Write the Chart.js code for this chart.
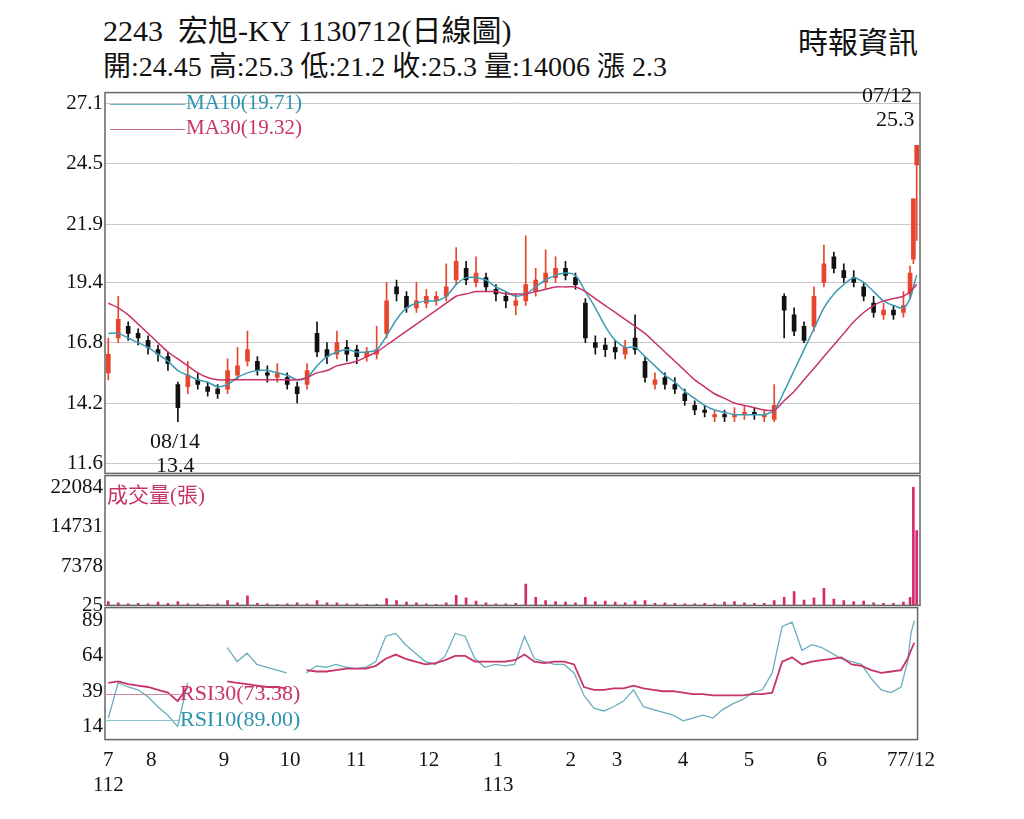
<!DOCTYPE html>
<html>
<head>
<meta charset="utf-8">
<script src="https://cdn.jsdelivr.net/npm/chart.js@4"></script>
<style>
  body { margin: 0; background: #fff; width: 1024px; height: 819px; overflow: hidden; position: relative;
         font-family: "Liberation Serif", "Noto Sans CJK TC", serif; color: #111; }
  .t { position: absolute; white-space: nowrap; }
  canvas { position: absolute; left: 0; }
  .seg { position: absolute; height: 1px; }
</style>
</head>
<body>
<div class="t" style="left:103px;top:6px;font-size:30px;">2243&nbsp; 宏旭-KY 1130712(日線圖)</div>
<div class="t" style="left:103px;top:44px;font-size:28px;">開:24.45 高:25.3 低:21.2 收:25.3 量:14006 漲 2.3</div>
<div class="t" style="left:798px;top:18px;font-size:30px;">時報資訊</div>

<canvas id="priceChart" style="top:78px" width="935" height="410"></canvas>
<canvas id="volChart" style="top:461px" width="935" height="159"></canvas>
<canvas id="rsiChart" style="top:593px" width="935" height="205"></canvas>

<div class="seg" style="left:110px;top:104px;width:75px;background:#6fb3c4"></div>
<div class="t" style="left:186px;top:90px;font-size:21px;color:#2a93ad">MA10(19.71)</div>
<div class="seg" style="left:110px;top:129px;width:75px;background:#c86a8a"></div>
<div class="t" style="left:186px;top:115px;font-size:21px;color:#c8336a">MA30(19.32)</div>
<div class="t" style="left:862px;top:82px;font-size:22px;">07/12</div>
<div class="t" style="left:876px;top:106px;font-size:22px;">25.3</div>
<div class="t" style="left:150px;top:428px;font-size:22px;">08/14</div>
<div class="t" style="left:156px;top:452px;font-size:22px;">13.4</div>
<div class="t" style="left:107px;top:478px;font-size:21px;color:#c8336a">成交量(張)</div>
<div class="seg" style="left:105px;top:694px;width:75px;background:#c88aa0"></div>
<div class="t" style="left:180px;top:680px;font-size:22px;color:#c8336a">RSI30(73.38)</div>
<div class="seg" style="left:105px;top:720px;width:75px;background:#8cc0cc"></div>
<div class="t" style="left:180px;top:706px;font-size:22px;color:#2a93ad">RSI10(89.00)</div>

<script>
// 交易日序號 (0 = 2023/07 起)
const days = [0,3,6,9,12,15,18,21,24,27,30,33,36,39,42,45,48,51,54,57,
  60,63,66,69,72,75,78,81,84,87,90,93,96,99,102,105,108,111,114,117,
  120,123,126,129,132,135,138,141,144,147,150,153,156,159,162,165,168,171,174,177,
  180,183,186,189,192,195,198,201,204,207,210,213,216,219,222,225,228,231,234,237,
  240,242,243,244];

const opens = [15.5,17.0,17.5,17.2,16.9,16.5,16.2,15.0,14.9,15.2,
  14.9,14.8,14.8,15.4,16.0,16.0,15.5,15.3,15.3,14.9,
  15.0,17.2,16.5,16.3,16.6,16.5,16.2,16.3,17.2,19.2,
  18.8,18.3,18.5,18.6,18.8,19.5,20.0,19.4,19.6,19.1,
  18.8,18.4,18.6,19.0,19.4,19.6,20.0,19.6,18.5,16.8,
  16.7,16.6,16.3,17.0,16.0,15.0,15.3,15.0,14.6,14.1,
  13.9,13.6,13.7,13.6,13.7,13.8,13.6,13.5,18.8,18.0,
  17.5,17.5,19.4,20.5,19.9,19.6,19.2,18.5,18.0,18.2,
  18.1,18.9,20.4,24.45];
const highs = [17.0,18.8,17.7,17.4,17.1,16.7,16.4,15.1,16.0,15.5,
  15.1,15.0,16.1,16.6,17.3,16.2,15.8,15.9,15.5,15.1,
  15.9,17.7,16.8,17.3,16.9,16.7,16.6,17.5,19.4,19.5,
  19.0,19.4,19.1,19.0,20.2,20.9,20.3,20.5,19.8,19.3,
  19.0,18.9,21.4,20.0,20.8,20.5,20.3,19.8,18.7,17.1,
  17.0,16.9,16.9,18.0,16.2,15.5,15.5,15.3,14.8,14.3,
  14.1,13.9,13.9,14.0,14.1,14.0,13.9,15.0,18.9,18.3,
  17.7,19.2,21.0,20.7,20.2,19.9,19.4,18.8,18.5,18.4,
  19.0,20.1,23.0,25.3];
const lows = [15.2,16.8,16.9,16.7,16.3,16.0,15.6,13.4,14.6,14.8,
  14.5,14.4,14.6,15.2,15.8,15.4,15.1,15.1,14.8,14.2,
  14.8,16.2,15.9,16.1,16.0,15.9,16.0,16.1,17.0,18.6,
  18.1,18.1,18.3,18.4,18.6,19.3,19.3,19.2,19.0,18.6,
  18.3,18.0,18.4,18.8,19.1,19.4,19.5,19.1,16.8,16.3,
  16.2,16.1,16.1,16.3,15.1,14.8,14.8,14.6,14.1,13.7,
  13.6,13.4,13.4,13.4,13.5,13.5,13.4,13.4,17.0,17.1,
  16.8,17.3,19.2,19.8,19.4,19.2,18.6,17.9,17.8,17.8,
  17.9,18.7,20.2,21.2];
const closes = [16.3,17.8,17.2,17.0,16.6,16.3,15.9,14.0,15.4,15.0,
  14.7,14.6,15.6,15.8,16.5,15.6,15.4,15.5,15.0,14.6,
  15.6,16.4,16.2,16.8,16.3,16.2,16.4,16.5,18.6,18.9,
  18.3,18.6,18.8,18.8,19.2,20.3,19.5,19.8,19.2,18.9,
  18.6,18.6,19.3,19.5,19.8,20.0,19.7,19.3,17.0,16.6,
  16.5,16.4,16.6,16.5,15.3,15.2,15.0,14.8,14.3,13.9,
  13.8,13.7,13.6,13.7,13.8,13.7,13.7,14.1,18.2,17.3,
  16.9,18.8,20.2,20.0,19.6,19.4,18.8,18.1,18.2,18.0,
  18.4,19.8,23.0,25.3];

const ma10 = [17.2,17.2,17.0,16.8,16.6,16.3,16.0,15.6,15.4,15.2,
  15.1,14.9,15.0,15.3,15.5,15.6,15.6,15.5,15.4,15.2,
  15.3,15.8,16.2,16.4,16.5,16.4,16.4,16.5,17.1,17.8,
  18.3,18.5,18.6,18.6,18.8,19.3,19.6,19.6,19.5,19.2,
  19.0,18.8,18.9,19.2,19.5,19.7,19.8,19.7,19.0,18.3,
  17.5,16.9,16.6,16.6,16.2,15.8,15.4,15.1,14.7,14.4,
  14.1,13.9,13.8,13.7,13.7,13.7,13.7,13.9,14.7,15.6,
  16.5,17.4,18.3,18.9,19.3,19.6,19.4,19.0,18.6,18.4,
  18.3,18.7,19.2,19.71];
const ma30 = [18.5,18.3,18.0,17.6,17.2,16.8,16.4,16.1,15.8,15.5,
  15.3,15.2,15.2,15.2,15.2,15.2,15.2,15.2,15.2,15.2,
  15.3,15.5,15.6,15.8,15.9,16.0,16.2,16.4,16.7,17.0,
  17.3,17.6,17.9,18.2,18.5,18.8,18.9,19.0,19.0,19.0,
  18.9,18.9,18.9,19.0,19.1,19.2,19.2,19.2,19.0,18.7,
  18.4,18.1,17.8,17.5,17.2,16.8,16.4,16.0,15.6,15.2,
  14.9,14.6,14.4,14.2,14.1,14.0,13.9,13.9,14.3,14.7,
  15.2,15.7,16.2,16.7,17.2,17.7,18.1,18.4,18.6,18.7,
  18.8,19.0,19.15,19.32];

const volumes = [700,500,300,400,300,600,400,700,300,300,
  200,300,900,500,1800,400,300,200,300,500,
  300,900,500,500,300,300,200,200,1300,900,
  600,500,300,200,500,1900,1400,800,500,300,
  300,400,4000,1500,900,700,600,500,1500,700,
  800,600,500,800,900,400,500,400,300,300,
  400,300,600,700,500,400,400,900,1500,2600,
  1000,1400,3200,1200,900,700,800,500,400,400,
  600,1500,22084,14006];

const rsi10 = [20,45,42,40,35,28,22,14,45,null,
  null,null,70,60,66,58,56,54,52,null,
  52,57,56,58,56,55,56,60,78,80,
  72,66,60,58,64,80,78,62,56,58,
  57,58,78,62,60,58,58,52,36,27,
  25,28,32,40,28,26,24,22,18,20,
  22,20,26,30,33,38,40,52,85,88,
  68,72,70,66,62,60,58,48,40,38,
  42,60,80,89.0];
const rsi30 = [45,46,44,43,42,40,38,32,42,null,
  null,null,46,45,44,43,42,42,41,null,
  54,53,53,54,55,55,55,57,62,65,
  62,60,58,59,61,64,64,60,60,60,
  60,61,65,60,59,60,60,58,42,40,
  40,41,41,43,41,40,39,39,38,37,
  37,36,36,36,36,37,37,38,60,63,
  58,60,61,62,63,58,57,54,52,53,
  54,62,68,73.38];

// 月份刻度
const monthDays = [0,13,35,55,75,97,118,140,154,174,194,216,243];
const monthLabels = [['7','112'],'8','9','10','11','12',['1','113'],'2','3','4','5','6','77/12'];

const priceTicks = [11.6,14.2,16.8,19.4,21.9,24.5,27.1];
const volTicks = [25,7378,14731,22084];
const rsiTicks = [14,39,64,89];

const RED = '#e8452c', BLACK = '#111';
const FONT = { family: '"Liberation Serif", serif', size: 21 };

const boxPlugin = {
  id: 'box',
  afterDraw(chart) {
    const a = chart.chartArea, ctx = chart.ctx;
    ctx.save();
    ctx.strokeStyle = '#666';
    ctx.lineWidth = 1.5;
    ctx.strokeRect(a.left, a.top, a.right - a.left, a.bottom - a.top);
    ctx.restore();
  }
};

function xScale(showTicks) {
  return {
    type: 'linear', min: -1, max: 245, offset: false,
    grid: { display: false },
    border: { display: false },
    afterBuildTicks: s => { s.ticks = monthDays.map(v => ({ value: v })); },
    ticks: {
      display: showTicks, autoSkip: false, maxRotation: 0, color: BLACK, font: FONT, padding: 0,
      callback: (v, i) => monthLabels[i]
    }
  };
}

function yScale(min, max, ticks, grid) {
  return {
    min, max,
    afterFit: s => { s.width = 105; },
    afterBuildTicks: s => { s.ticks = ticks.map(v => ({ value: v })); },
    grid: { display: grid, color: '#c8c8c8', drawTicks: false },
    border: { display: false },
    ticks: { color: BLACK, font: FONT, padding: 2, autoSkip: false, callback: v => String(v) }
  };
}

const baseOpts = {
  responsive: false, animation: false,
  plugins: { legend: { display: false }, tooltip: { enabled: false } }
};

const candleColors = closes.map((c, i) => c >= opens[i] ? RED : BLACK);

new Chart(document.getElementById('priceChart'), {
  type: 'bar',
  data: {
    datasets: [
      { type: 'line', data: days.map((d, i) => ({ x: d, y: ma30[i] })), borderColor: '#c8336a',
        borderWidth: 1.5, pointRadius: 0, tension: 0.3 },
      { type: 'line', data: days.map((d, i) => ({ x: d, y: ma10[i] })), borderColor: '#3a9bb5',
        borderWidth: 1.5, pointRadius: 0, tension: 0.3 },
      { data: days.map((d, i) => ({ x: d, y: [lows[i], highs[i]] })), backgroundColor: candleColors,
        barThickness: 1, grouped: false },
      { data: days.map((d, i) => ({ x: d, y: [opens[i], closes[i] === opens[i] ? closes[i] + 0.05 : closes[i]] })),
        backgroundColor: candleColors, barThickness: 4, grouped: false }
    ]
  },
  options: { ...baseOpts,
    layout: { padding: { top: 6, right: 15, bottom: 0, left: 0 } },
    scales: { x: xScale(false), y: yScale(11.17, 27.57, priceTicks, true) } },
  plugins: [boxPlugin]
});

new Chart(document.getElementById('volChart'), {
  type: 'bar',
  data: {
    datasets: [{ data: days.map((d, i) => ({ x: d, y: volumes[i] })), backgroundColor: '#d6296f', barThickness: 2 }]
  },
  options: { ...baseOpts,
    layout: { padding: { top: 5, right: 15, bottom: 0, left: 0 } },
    scales: { x: xScale(false), y: yScale(0, 24300, volTicks, false) } },
  plugins: [boxPlugin]
});

new Chart(document.getElementById('rsiChart'), {
  type: 'line',
  data: {
    datasets: [
      { data: days.map((d, i) => ({ x: d, y: rsi30[i] })), borderColor: '#c8336a', borderWidth: 1.8, pointRadius: 0, spanGaps: false },
      { data: days.map((d, i) => ({ x: d, y: rsi10[i] })), borderColor: '#6aaebe', borderWidth: 1.3, pointRadius: 0, spanGaps: false }
    ]
  },
  options: { ...baseOpts,
    layout: { padding: { top: 5, right: 15, bottom: 0, left: 0 } },
    scales: { x: xScale(true), y: yScale(4.7, 98.3, rsiTicks, false) } },
  plugins: [boxPlugin]
});
</script>
</body>
</html>
